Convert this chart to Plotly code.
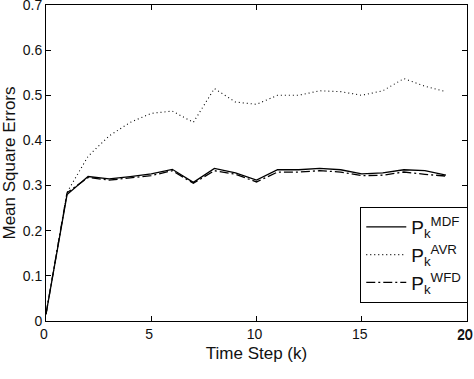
import plotly.graph_objects as go

steps = list(range(20))
mse_mdf = [0.015, 0.280, 0.320, 0.315, 0.320, 0.326, 0.336, 0.307, 0.338, 0.328,
           0.312, 0.335, 0.335, 0.338, 0.335, 0.326, 0.328, 0.335, 0.333, 0.323]
mse_avr = [0.015, 0.285, 0.365, 0.410, 0.440, 0.460, 0.465, 0.440, 0.515, 0.485,
           0.480, 0.500, 0.500, 0.510, 0.508, 0.500, 0.510, 0.537, 0.520, 0.508]
mse_wfd = [0.015, 0.284, 0.318, 0.312, 0.317, 0.322, 0.333, 0.305, 0.333, 0.325,
           0.308, 0.330, 0.330, 0.333, 0.330, 0.322, 0.323, 0.330, 0.325, 0.321]

names = ["P<sub>k</sub><sup>MDF</sup>", "P<sub>k</sub><sup>AVR</sup>", "P<sub>k</sub><sup>WFD</sup>"]
x_ticks = [0, 5, 10, 15, 20]
x_labels = ["0", "5", "10", "15", "20"]
y_ticks = [0, 0.1, 0.2, 0.3, 0.4, 0.5, 0.6, 0.7]
y_labels = ["0", "0.1", "0.2", "0.3", "0.4", "0.5", "0.6", "0.7"]

fig = go.Figure()
fig.add_trace(go.Scatter(x=steps, y=mse_mdf, mode="lines", name=names[0],
                         line=dict(color="black", width=1.3, dash="solid")))
fig.add_trace(go.Scatter(x=steps, y=mse_avr, mode="lines", name=names[1],
                         line=dict(color="black", width=1.1, dash="1px,3px")))
fig.add_trace(go.Scatter(x=steps, y=mse_wfd, mode="lines", name=names[2],
                         line=dict(color="black", width=1.3, dash="9px,3px,2px,3px")))

font = dict(family="Liberation Sans, Arial, sans-serif", size=14, color="#111")
fig.update_layout(
    width=474, height=379,
    margin=dict(l=46, r=7, t=5, b=58),
    paper_bgcolor="white", plot_bgcolor="white",
    font=font,
    showlegend=True,
    legend=dict(x=0.746, y=0.361, xanchor="left", yanchor="top",
                bordercolor="black", borderwidth=1.2, bgcolor="white",
                font=dict(family="Liberation Sans, Arial, sans-serif", size=19, color="#111"),
                tracegroupgap=0, itemwidth=40),
    xaxis=dict(range=[0, 20], tickvals=x_ticks, ticktext=x_labels, ticks="inside", ticklen=5,
               tickcolor="black", showline=True, linecolor="black", linewidth=1,
               mirror="ticks", showgrid=False, zeroline=False, automargin=False,
               ticklabeloverflow="allow", ticklabelshift=-2,
               title=dict(text="Time Step (k)", standoff=6)),
    yaxis=dict(range=[0, 0.7], tickvals=y_ticks, ticktext=y_labels,
               ticks="inside", ticklen=5,
               tickcolor="black", showline=True, linecolor="black", linewidth=1,
               mirror="ticks", showgrid=False, zeroline=False, automargin=False,
               ticklabeloverflow="allow",
               title=dict(text="Mean Square Errors", standoff=4)),
)
# last x tick label, which Plotly drops at the page edge
fig.add_annotation(text=x_labels[-1], xref="x", yref="paper", x=x_ticks[-1], y=0,
                   xanchor="center", yanchor="top", yshift=-4, xshift=-2, showarrow=False,
                   font=font)
fig.add_annotation(text="<b>Fig. 1. MSE in Case I</b>", xref="paper", yref="paper",
                   x=0.45, y=-0.172, xanchor="center", yanchor="top", showarrow=False,
                   font=dict(family="Liberation Serif, Times New Roman, serif", size=14, color="#111"))

fig.write_html("out.html", config={"displayModeBar": False},
               post_script="document.body.style.margin='0';document.body.style.overflow='hidden';")
